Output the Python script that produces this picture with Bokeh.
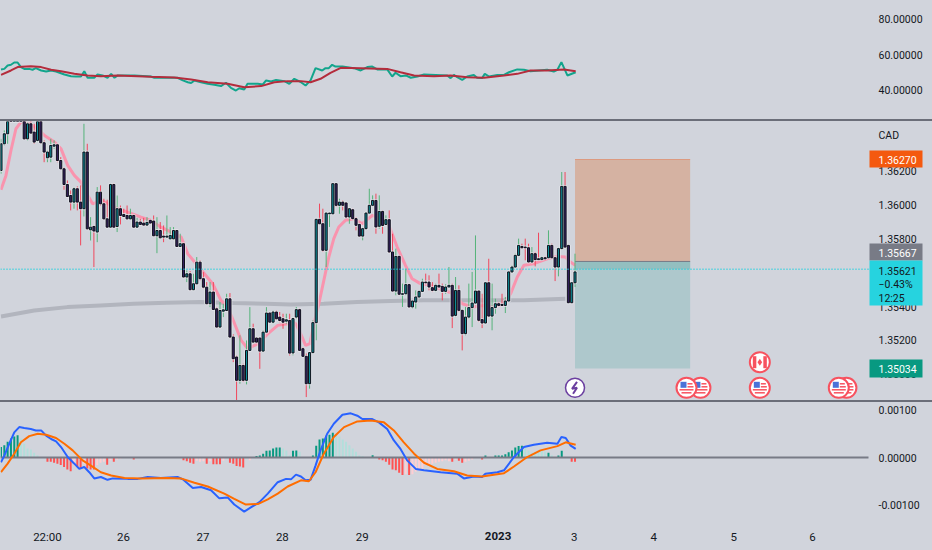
import numpy as np
from bokeh.core.properties import value
from bokeh.embed import file_html
from bokeh.layouts import column
from bokeh.models import ColumnDataSource, FixedTicker, LinearAxis, NumeralTickFormatter, Range1d, Spacer
from bokeh.plotting import figure
from bokeh.resources import INLINE

# candles, in units of 0.00001 CAD
opens = [136205,136363,136422,136540,136521,136550,136501,136501,136392,136481,136432,136383,136501,136369,136280,136284,136349,136357,136264,136215,
         136122,136057,136018,136097,136018,135979,136314,135854,135874,135841,136077,136008,135919,135870,136122,135874,135979,135945,135939,135919,
         135939,135870,135900,135894,135882,135910,135906,135819,135850,135817,135811,135801,135801,135850,135756,135772,135575,135594,135500,135535,
         135663,135565,135515,135417,135486,135387,135279,135373,135377,135446,135220,135102,134964,135052,134964,135141,135269,135214,135214,135137,
         135249,135362,135308,135368,135338,135328,135314,135318,135126,135338,135382,135151,135106,134944,135128,135305,135916,135890,135733,135949,
         135949,136127,135999,136018,136013,135930,135973,135920,135886,135817,135861,135953,135999,136028,135875,135963,135886,135914,135723,135492,
         135697,135473,135476,135530,135398,135427,135457,135490,135545,135545,135512,135496,135526,135520,135490,135516,135526,135348,135496,135378,
         135240,135338,135394,135421,135492,135323,135303,135541,135344,135394,135417,135413,135407,135433,135605,135634,135703,135756,135752,135748,
         135664,135713,135683,135678,135689,135689,135762,135689,135634,135743,136111,135762,135423,135541]
highs = [136392,136442,136560,136560,136580,136570,136570,136511,136491,136501,136481,136540,136560,136383,136323,136392,136383,136363,136284,136225,
         136146,136087,136107,136111,136117,136481,136363,135929,135880,136107,136117,136038,136032,136130,136130,136057,135998,135979,135998,135979,
         135945,135925,135919,135925,135929,135919,135939,135929,135900,135880,135939,135870,135870,135854,135831,135776,135614,135610,135594,135693,
         135673,135604,135545,135545,135545,135397,135427,135417,135476,135480,135236,135111,135230,135062,135200,135397,135299,135220,135220,135259,
         135397,135368,135377,135377,135368,135358,135358,135358,135338,135398,135388,135161,135122,135132,135319,135920,136009,135979,135959,135959,
         136127,136127,136038,136028,136018,135979,135979,135930,135890,135867,135959,136097,136058,136068,136058,135969,135940,135969,135831,135743,
         135703,135536,135624,135536,135437,135496,135496,135565,135595,135585,135545,135536,135595,135536,135532,135634,135536,135575,135526,135382,
         135398,135536,135605,135821,135496,135476,135545,135683,135536,135447,135427,135476,135457,135610,135644,135713,135802,135772,135802,135772,
         135752,135723,135837,135697,135697,135851,135772,135693,135752,136196,136196,135766,135545,135713]
lows = [136186,136353,136363,136491,136511,136501,136497,136387,136383,136422,136363,136373,136363,136254,136254,136254,136333,136254,136209,136091,
        136048,135969,135979,135969,135762,135933,135854,135791,135634,135781,135998,135914,135866,135866,135866,135841,135886,135929,135914,135914,
        135866,135866,135882,135878,135878,135890,135815,135716,135801,135781,135807,135795,135795,135752,135752,135571,135545,135496,135496,135531,
        135555,135506,135413,135397,135381,135275,135275,135338,135373,135216,135072,134845,134944,134954,134940,135137,135184,135186,135032,135131,
        135243,135302,135299,135322,135308,135269,135299,135111,135112,135329,135137,135102,134865,134915,135122,135201,135886,135723,135634,135871,
        135946,135989,135949,135969,135920,135890,135914,135851,135812,135792,135855,135949,135993,135831,135861,135831,135880,135717,135486,135467,
        135467,135398,135467,135394,135388,135388,135447,135486,135536,135496,135486,135486,135512,135437,135476,135512,135273,135338,135368,135141,
        135230,135329,135279,135417,135309,135273,135299,135338,135260,135358,135398,135402,135362,135427,135599,135630,135697,135743,135674,135658,
        135658,135638,135674,135674,135674,135683,135683,135551,135579,135737,135748,135421,135421,135516]
closes = [136363,136422,136501,136501,136560,136511,136550,136392,136481,136426,136373,136501,136369,136314,136314,136353,136357,136264,136215,136122,
          136051,136018,136097,136018,135979,136314,135860,135870,135847,136077,136008,135919,135870,136122,135870,135979,135939,135933,135919,135939,
          135870,135900,135886,135882,135898,135894,135819,135850,135807,135811,135817,135821,135850,135756,135772,135575,135594,135500,135535,135663,
          135565,135515,135417,135486,135383,135279,135377,135381,135446,135220,135092,134964,135052,134964,135141,135269,135190,135190,135137,135249,
          135362,135308,135368,135328,135318,135308,135322,135125,135329,135382,135141,135106,134944,135128,135305,135916,135890,135733,135953,135953,
          136127,135999,136018,135999,135930,135979,135920,135881,135817,135861,135953,135999,136028,135871,135963,135880,135914,135723,135492,135697,
          135473,135476,135530,135398,135433,135457,135490,135545,135541,135516,135496,135526,135516,135490,135516,135526,135344,135496,135378,135240,
          135338,135394,135421,135492,135319,135303,135541,135344,135394,135417,135407,135407,135433,135605,135634,135703,135762,135748,135748,135664,
          135713,135678,135678,135689,135683,135762,135689,135634,135743,136111,135752,135423,135541,135605]

# fast moving average
fast_ma_x = [0,1.5,3,4.5,6,8.5,11.1,13.1,16.1,18.1,20.1,22.1,24.1,25.6,27.6,30.2,33.2,35.2,38.2,42.2,45.2,48.2,51.3,54.3,56.3,58.8,61.3,63.8,66.3,68.3,
             70.4,72.4,74.4,77.4,80.4,83.4,86.4,87.25,88.8,90.3,91.8,93.1,94.3,95.8,97.3,98.8,100.3,101.8,103.8,106.3,108.9,111.9,114.4,116.9,119.4,121.9,
             123.9,126.4,129.4,133.5,136.5,139,142,145.5,148.5,151.5,153.6,155.6,157.6,160.6,164.6,167.6,170.1,171.6,173.1]
fast_ma = [136091,136176,136323,136452,136491,136481,136452,136412,136373,136333,136235,136176,136136,136077,136008,136028,135998,135979,135959,135929,
           135910,135870,135841,135811,135712,135653,135594,135535,135437,135397,135299,135200,135151,135180,135239,135289,135299,135319,135299,135240,
           135171,135181,135299,135417,135555,135693,135802,135871,135910,135920,135890,135940,135920,135881,135752,135644,135565,135536,135526,135496,
           135476,135417,135398,135407,135398,135417,135476,135575,135644,135654,135683,135697,135693,135664,135644]

# slow moving average
slow_ma_x = [0,10,20,30,40,50,60,70,80,87.25,97.3,107.3,117.4,127.4,137.5,147.5,157.6,170.1]
slow_ma = [135342,135377,135397,135407,135417,135423,135427,135421,135417,135413,135417,135427,135433,135437,135437,135437,135437,135447]

# top pane oscillator
osc_x = [0,1,2,3,4,5,6,7,8.5,9.5,10.5,12.1,13.6,15.1,16.6,19.1,21.1,22.6,24.1,25.1,26.1,28.1,29.1,30.6,32.1,33.2,34.2,35.2,40.2,45.2,46.2,50.2,53.2,54.8,
         56.3,57.3,58.3,60.3,62.3,64.3,66.3,67.8,69.3,70.8,71.8,73.3,74.3,77.4,78.9,79.9,81.4,82.9,85.4,86.9,88.4,90.4,91.8,93.3,94.8,96.8,97.8,98.8,99.8,
         100.8,102.9,106.4,108.4,110.4,111.9,113.4,116.4,117.9,118.9,120.4,122,123.5,125.5,127.5,134.5,135.5,136.5,137.5,139,140.5,142.5,143.5,145,145.8,
         147.1,149.6,151.6,153.1,155.6,157.6,159.6,164.6,166.6,167.7,168.9,170.7,173.2]
osc = [51.5,51.9,53.8,54.2,55.5,55.5,52.9,51.9,51.9,51.4,52.3,51.0,50.4,51.0,50.4,48.7,47.8,47.6,47.6,50.6,46.9,46.9,48.7,48.2,46.9,49.1,46.9,48.2,48.2,47.6,
       46.9,46.9,46.9,45.4,44.4,43.9,45.4,44.4,43.5,42.9,42.2,44.1,41.2,39.7,41.0,40.3,43.5,43.5,43.1,45.4,44.8,45.7,45.0,43.5,46.3,44.4,42.5,45.4,52.3,51.0,
       52.3,52.3,54.2,53.2,53.2,52.3,51.0,52.9,53.2,51.6,51.6,47.6,49.7,47.8,48.2,46.9,47.6,48.7,48.2,46.7,48.5,47.2,45.7,47.6,48.5,46.9,46.7,49.1,47.6,48.5,
       48.5,50.0,51.6,51.4,50.6,51.4,50.4,51.4,55.7,48.2,50.0]
osc_signal_x = [0,3,5,9,12.1,15.1,18.1,22.1,26.1,30.1,35.2,45.2,52.2,57.3,62.3,68.3,73.3,78.4,82.4,86.4,90.4,93.3,96.3,99.3,102.4,108.4,116.4,120.4,124.5,
                130.5,135.5,140.5,145.6,151.6,155.6,159.6,164.6,169.7,173.2]
osc_signal = [48.5,51.0,52.9,53.4,52.9,51.4,50.6,49.1,48.2,47.8,48.2,47.4,47.0,45.9,44.4,43.5,41.6,42.2,44.4,45.0,45.0,44.4,46.3,49.7,52.5,52.3,51.9,50.0,48.2,
              47.8,48.2,47.2,46.9,48.2,49.1,51.0,51.0,51.6,50.6]

# MACD lines, units of 0.00001
macd_x = [0,1,2.5,4,5.5,7,9,10.5,12.1,13.6,15.1,16.6,18.1,20.1,22.1,23.6,25.1,26.6,28.1,30.1,32.1,33.7,38.2,41.2,44.2,48.2,53.2,54.8,57.8,60.3,63.3,65.8,68.3,
          70.3,73.3,75.3,77.9,80.4,83.4,85.9,87.4,88.9,90.4,91.8,93.3,94.8,96.3,98.3,100.3,102.9,105.4,107.4,108.9,111.9,113.9,116.4,118.4,120.4,122.4,125,
          127.5,132.5,137.5,139.5,142.5,145,146,149.6,151.6,154.6,157.6,160.6,164.6,167.7,168.9,170.2,171.7,173.2]
macd = [-10,4,29,53,64,62,60,57,57,46,39,34,22,1,-13,-24,-20,-31,-44,-41,-47,-44,-45,-45,-41,-43,-41,-46,-64,-62,-69,-86,-84,-99,-114,-105,-94,-76,-52,-45,-46,
        -36,-40,-48,-47,-17,15,50,71,90,93,88,81,81,74,60,36,18,-6,-24,-27,-31,-34,-44,-40,-41,-34,-31,-27,1,22,27,31,29,43,41,25,18]
macd_signal_x = [0,2,4,6,8.5,11.1,13.6,16.6,19.1,21.6,24.6,27.1,30.1,33.2,37.2,42.2,50.2,54.2,58.3,62.3,67.3,70.3,73.8,77.4,80.4,83.4,86.4,90.4,92.8,94.8,97.3,
                 100.3,103.4,107.4,111.4,115.4,118.4,121.4,124.5,127.5,131.5,136.5,140.5,145,151.6,154.6,158.6,162.6,167.7,170.2,173.2]
macd_signal = [-31,-13,8,32,45,50,48,41,29,15,-6,-17,-31,-38,-43,-44,-43,-44,-53,-61,-76,-87,-99,-98,-88,-76,-61,-48,-50,-31,8,43,64,76,78,74,57,32,8,-11,-24,
               -29,-38,-40,-33,-19,1,15,24,32,27]

# MACD histogram by bar
hist_strong_up_x = [0,1,2,3,4,5,77,78,79,80,81,82,83,84,88,89,94,95,96,97,98,99,100,112,146,149,150,151,152,153,154,155,156,157,165,168,169]
hist_strong_up = [22,26,33,40,44,47,3,4,8,14,15,19,21,21,14,15,4,25,38,40,46,48,52,5,4,4,4,4,7,11,15,21,24,25,10,4,14]
hist_fade_up_x = [6,7,8,9,10,11,85,86,87,90,101,102,103,104,105,106,107,108,109,158,159,160,161,162,163,164,166]
hist_fade_up = [40,29,19,17,10,5,19,15,5,12,47,44,38,33,26,19,12,5,3,20,15,10,12,14,15,12,5]
hist_strong_down_x = [14,15,16,17,18,19,20,21,23,24,26,27,28,32,34,40,55,56,57,58,62,64,65,66,69,70,71,72,73,114,115,116,117,118,119,120,121,123,136,138,139,145,172,173]
hist_strong_down = [-9,-9,-11,-13,-16,-20,-25,-29,-20,-23,-23,-25,-25,-15,-9,-4,-6,-8,-11,-13,-13,-14,-14,-14,-11,-13,-18,-19,-21,-4,-6,-9,-15,-25,-27,-32,-37,-37,-9,-7,-11,-4,-9,-9]
hist_fade_down_x = [22,25,29,30,31,33,35,36,59,60,61,63,67,75,122,124,125,126,127,128,129,130,131,132,133,134,135,137,140,141,142]
hist_fade_down = [-16,-13,-16,-11,-9,-6,-4,-2,-7,-9,-8,-8,-7,-6,-35,-35,-30,-27,-23,-16,-13,-13,-11,-9,-8,-6,-8,-4,-9,-7,-4]

# axis ticks
time_tick_bars = [14.0,36.9,60.9,84.8,108.9,172.8,196.7,220.8,244.6]
time_tick_labels = ["22:00","26","27","28","29","3","4","5","6"]
year_tick_bar = 149.8
year_tick_label = "2023"
osc_ticks = [40,60,80]
price_ticks = [1.35,1.352,1.354,1.356,1.358,1.36,1.362]
macd_ticks = [-0.001,0,0.001]

# position tool and price tags
take_profit = 1.36270
entry_price = 1.35667
stop_price = 1.35034
last_price = 1.35621
last_change = "−0.43%"
countdown = "12:25"
position_bars = [173,207.7]

# event markers (bar positions)
us_events = [254.8,252.5,228.7,210.8,206.6]
ca_events = [228.7]
split_events = [173]

BG = "#d1d4dc"
FONT = "Roboto"
TEXT = "#131722"
BAR_PX = 3.318
X0 = 0.5
SCALE_X = 868


def x_at(px):
    return (px - X0) / BAR_PX


def price_at(py):
    return 1.3627 - (py - 159) / 16909


def macd_at(py):
    return (457 - py) / 47500


def style_axis(ax, size, standoff):
    ax.axis_line_color = None
    ax.major_tick_line_color = None
    ax.minor_tick_line_color = None
    ax.major_tick_in = 0
    ax.major_tick_out = 0
    ax.major_label_standoff = standoff
    ax.major_label_text_font = FONT
    ax.major_label_text_font_size = size
    ax.major_label_text_color = TEXT
    # under the tags, which cover some of the labels
    ax.level = "underlay"


def make_pane(height, y_start, y_end, ticks):
    f = figure(width=932, height=height, output_backend="svg", toolbar_location=None,
               x_range=x_range, y_range=Range1d(y_start, y_end),
               x_axis_type=None, y_axis_type=None, tools="", min_border=0)
    f.background_fill_color = None
    f.border_fill_color = None
    f.outline_line_color = None
    f.styles = {"background-color": BG}
    # frame fills the whole pane, the negative standoff pulls the labels back into it
    ax = LinearAxis(ticker=FixedTicker(ticks=ticks), formatter=NumeralTickFormatter(format="0.00000"))
    style_axis(ax, "10.5px", -54)
    f.add_layout(ax, "right")
    return f


x_range = Range1d(x_at(0), x_at(932))

# top oscillator pane
top = make_pane(119, 60 - (119 - 54) / 1.775, 60 - (0 - 54) / 1.775, osc_ticks)
top.line(osc_x, osc, line_color="#12a58c", line_width=2)
top.line(osc_signal_x, osc_signal, line_color="#b42c3c", line_width=2)

# main pane
main = make_pane(279, price_at(400), price_at(121), price_ticks)

o = np.array(opens) / 1e5
h = np.array(highs) / 1e5
l = np.array(lows) / 1e5
c = np.array(closes) / 1e5
up = c >= o
candles = ColumnDataSource(dict(
    bar=np.arange(len(o)), top=np.maximum(o, c), bottom=np.minimum(o, c), high=h, low=l,
    wick=np.where(up, "#55b37a", "#f0475c").tolist(),
    body=np.where(up, "#0d8f97", "#35205f").tolist()))

pb = position_bars
main.quad(left=pb[0], right=pb[1], bottom=entry_price, top=take_profit,
          fill_color="#d5b2a2", line_color=None)
main.quad(left=pb[0], right=pb[1], bottom=stop_price, top=entry_price,
          fill_color="#aec8cc", line_color=None)
main.quad(left=pb[0], right=pb[1], bottom=last_price, top=entry_price,
          fill_color="#93bfc0", line_color=None)
main.segment(x0=pb[0], x1=pb[1], y0=take_profit, y1=take_profit, line_color="#dc9a80", line_width=1)
main.segment(x0=pb[0], x1=pb[1], y0=entry_price, y1=entry_price, line_color="#787b86", line_width=1)

main.line(slow_ma_x, np.array(slow_ma) / 1e5, line_color="#b2b5be", line_width=4)
main.line(fast_ma_x, np.array(fast_ma) / 1e5, line_color="#f994ae", line_width=3)
main.segment(x0="bar", x1="bar", y0="low", y1="high", line_color="wick", line_width=1, source=candles)
# pale edge around the bodies, the source picture has it
main.vbar(x="bar", width=0.62, top="top", bottom="bottom", fill_color=None,
          line_color="#e8eaf0", line_alpha=0.7, line_width=3, source=candles)
main.vbar(x="bar", width=0.62, top="top", bottom="bottom", fill_color="body",
          line_color="#0d0f1a", line_width=1, source=candles)
main.segment(x0=x_at(0), x1=x_at(SCALE_X), y0=last_price, y1=last_price, line_color="#1fd0dd",
             line_width=1.4, line_dash="1 2")

# tags on the price scale
tag_l, tag_r, tag_text_x = x_at(869), x_at(922), x_at(878)
for py0, py1, color in [(150, 167, "#f4590f"), (243, 260, "#787b86"), (260, 305, "#26d3df"), (359, 377, "#089981")]:
    main.quad(left=tag_l, right=tag_r, bottom=price_at(py1), top=price_at(py0), fill_color=color, line_color=None)


def tag_text(text, py, color):
    main.text(x=[tag_text_x], y=[price_at(py)], text=[text], text_font=value(FONT), text_font_size="10.5px",
              text_color=color, text_align="left", text_baseline="middle")


tag_text("%.5f" % take_profit, 159, "white")
tag_text("%.5f" % entry_price, 252, "white")
tag_text("%.5f" % last_price, 270, TEXT)
tag_text(last_change, 284, TEXT)
tag_text(countdown, 298, TEXT)
tag_text("%.5f" % stop_price, 368, "white")
tag_text("CAD", 135, TEXT)


def offset_y(py, dy):
    return price_at(py + dy)


def offset_x(bar, dx):
    return bar + dx / BAR_PX


RING_RED = "#f7525f"
EVENT_Y = 387.3
CA_Y = 361.7

for bar in us_events:
    main.scatter([bar], [price_at(EVENT_Y)], marker="circle", size=20, fill_color="white",
                 line_color=RING_RED, line_width=2)
    main.quad(left=offset_x(bar, -6), right=offset_x(bar, 0), top=offset_y(EVENT_Y, -6), bottom=offset_y(EVENT_Y, 0),
              fill_color="#4a72d8", line_color=None)
    main.segment(x0=[offset_x(bar, 1), offset_x(bar, 1), offset_x(bar, -7), offset_x(bar, -5)],
                 x1=[offset_x(bar, 6), offset_x(bar, 7), offset_x(bar, 7), offset_x(bar, 5)],
                 y0=[offset_y(EVENT_Y, dy) for dy in (-4, -1, 2, 5)],
                 y1=[offset_y(EVENT_Y, dy) for dy in (-4, -1, 2, 5)],
                 line_color=RING_RED, line_width=1.5)

for bar in ca_events:
    main.scatter([bar], [price_at(CA_Y)], marker="circle", size=20, fill_color="white",
                 line_color=RING_RED, line_width=2)
    main.quad(left=[offset_x(bar, -7), offset_x(bar, 3.5)], right=[offset_x(bar, -3.5), offset_x(bar, 7)],
              top=offset_y(CA_Y, -6), bottom=offset_y(CA_Y, 6), fill_color=RING_RED, line_color=None)
    main.scatter([bar], [price_at(CA_Y)], marker="diamond", size=7, fill_color=RING_RED, line_color=None)

for bar in split_events:
    main.scatter([bar], [price_at(EVENT_Y)], marker="circle", size=19, fill_color="white",
                 line_color="#6b3fa0", line_width=1.5)
    main.line([offset_x(bar, dx) for dx in (2, -3, 2, -2)],
              [offset_y(EVENT_Y, dy) for dy in (-6, 1, 0, 6)],
              line_color="#6b3fa0", line_width=2)

# MACD pane, runs down to the page edge with the time labels inside it
bottom = make_pane(148, macd_at(550), macd_at(402), macd_ticks)

for xs, vals, color in [(hist_strong_up_x, hist_strong_up, "#089981"),
                        (hist_fade_up_x, hist_fade_up, "#b2dfdb"),
                        (hist_strong_down_x, hist_strong_down, "#ff5252"),
                        (hist_fade_down_x, hist_fade_down, "#ffcdd2")]:
    bottom.vbar(x=xs, width=0.6, top=np.array(vals) / 1e5, bottom=0, fill_color=color, line_color=None)

bottom.segment(x0=x_at(0), x1=x_at(SCALE_X), y0=0, y1=0, line_color="#787b86", line_width=2)
bottom.line(macd_x, np.array(macd) / 1e5, line_color="#2962ff", line_width=2)
bottom.line(macd_signal_x, np.array(macd_signal) / 1e5, line_color="#ff6d00", line_width=2)

time_axis = LinearAxis(ticker=FixedTicker(ticks=time_tick_bars),
                       major_label_overrides=dict(zip(time_tick_bars, time_tick_labels)))
style_axis(time_axis, "11.5px", -21)
bottom.add_layout(time_axis, "below")

# the year label is bold, the axis can only style all its labels alike
bottom.text(x=[year_tick_bar], y=[macd_at(535)], text=[year_tick_label], text_font=value(FONT),
            text_font_size="11.5px", text_font_style="bold", text_color=TEXT,
            text_align="center", text_baseline="middle")

sep1 = Spacer(width=932, height=2, styles={"background-color": "#6b6e79"})
sep2 = Spacer(width=932, height=2, styles={"background-color": "#6b6e79"})

p = column(top, sep1, main, sep2, bottom, spacing=0)

open("out.html", "w").write(file_html(p, INLINE))
